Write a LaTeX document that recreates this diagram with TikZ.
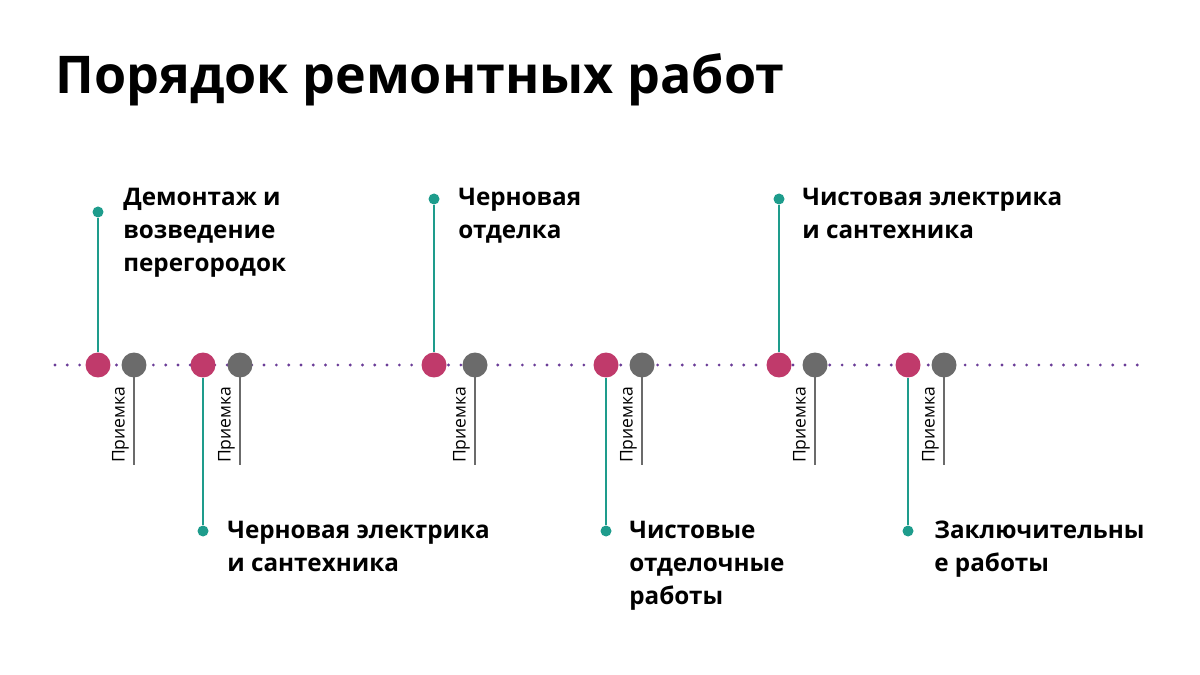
\documentclass[tikz,border=0pt]{standalone}
\usepackage{fontspec}
\setmainfont{Open Sans}
\usetikzlibrary{positioning}
\definecolor{stagepink}{HTML}{C03A6B}
\definecolor{checkgray}{HTML}{6B6B6B}
\definecolor{lineteal}{HTML}{1E9C8C}
\definecolor{dotpurple}{HTML}{6A3C97}
\tikzset{stage/.style={circle, fill=stagepink, minimum size=0.5cm, inner sep=0pt},
  check/.style={circle, fill=checkgray, minimum size=0.5cm, inner sep=0pt},
  tip/.style={circle, fill=lineteal, minimum size=0.22cm, inner sep=0pt},
  label/.style={anchor=north west, align=left, font=\bfseries\fontsize{13.8}{18.6}\selectfont, inner sep=0pt},
  accept/.style={rotate=90, anchor=south west, font=\fontsize{10}{11}\selectfont, inner sep=1pt}}
\begin{document}
\begin{tikzpicture}[x=0.02cm, y=-0.02cm]
\useasboundingbox (0,0) rectangle (1200,675);
\node[anchor=west, font=\bfseries\fontsize{29.6}{32}\selectfont, inner sep=0pt] (title) at (55,80) {Порядок ремонтных работ};
\draw[dotpurple, line width=1.8pt, dash pattern=on 0pt off 7pt, line cap=round] (55,365) -- (1145,365);
% stages: x of stage dot, x of check dot, tip y
\foreach \s/\c/\ty [count=\i] in {98/134/212, 203/240/531, 434/475/199, 606/642/531, 779/815/199, 908/944/531}{
  \draw[checkgray, line width=1pt] (\c,365) -- (\c,465) coordinate (end\i);
  \node[check] (chk\i) at (\c,365) {};
  \node[accept] at (\c-3,465) {Приемка};
  \node[tip] (tip\i) at (\s,\ty) {};
  \node[stage] (st\i) at (\s,365) {};
  \draw[lineteal, line width=1.4pt] (tip\i) -- (st\i);
}
\node[label] (l1) at (123,188) {Демонтаж и\\возведение\\перегородок};
\node[label] (l2) at (227,521) {Черновая электрика\\и сантехника};
\node[label] (l3) at (458,188) {Черновая\\отделка};
\node[label] (l4) at (629,521) {Чистовые\\отделочные\\работы};
\node[label] (l5) at (802,188) {Чистовая электрика\\и сантехника};
\node[label] (l6) at (934,521) {Заключительны\\е работы};
\end{tikzpicture}
\end{document}
